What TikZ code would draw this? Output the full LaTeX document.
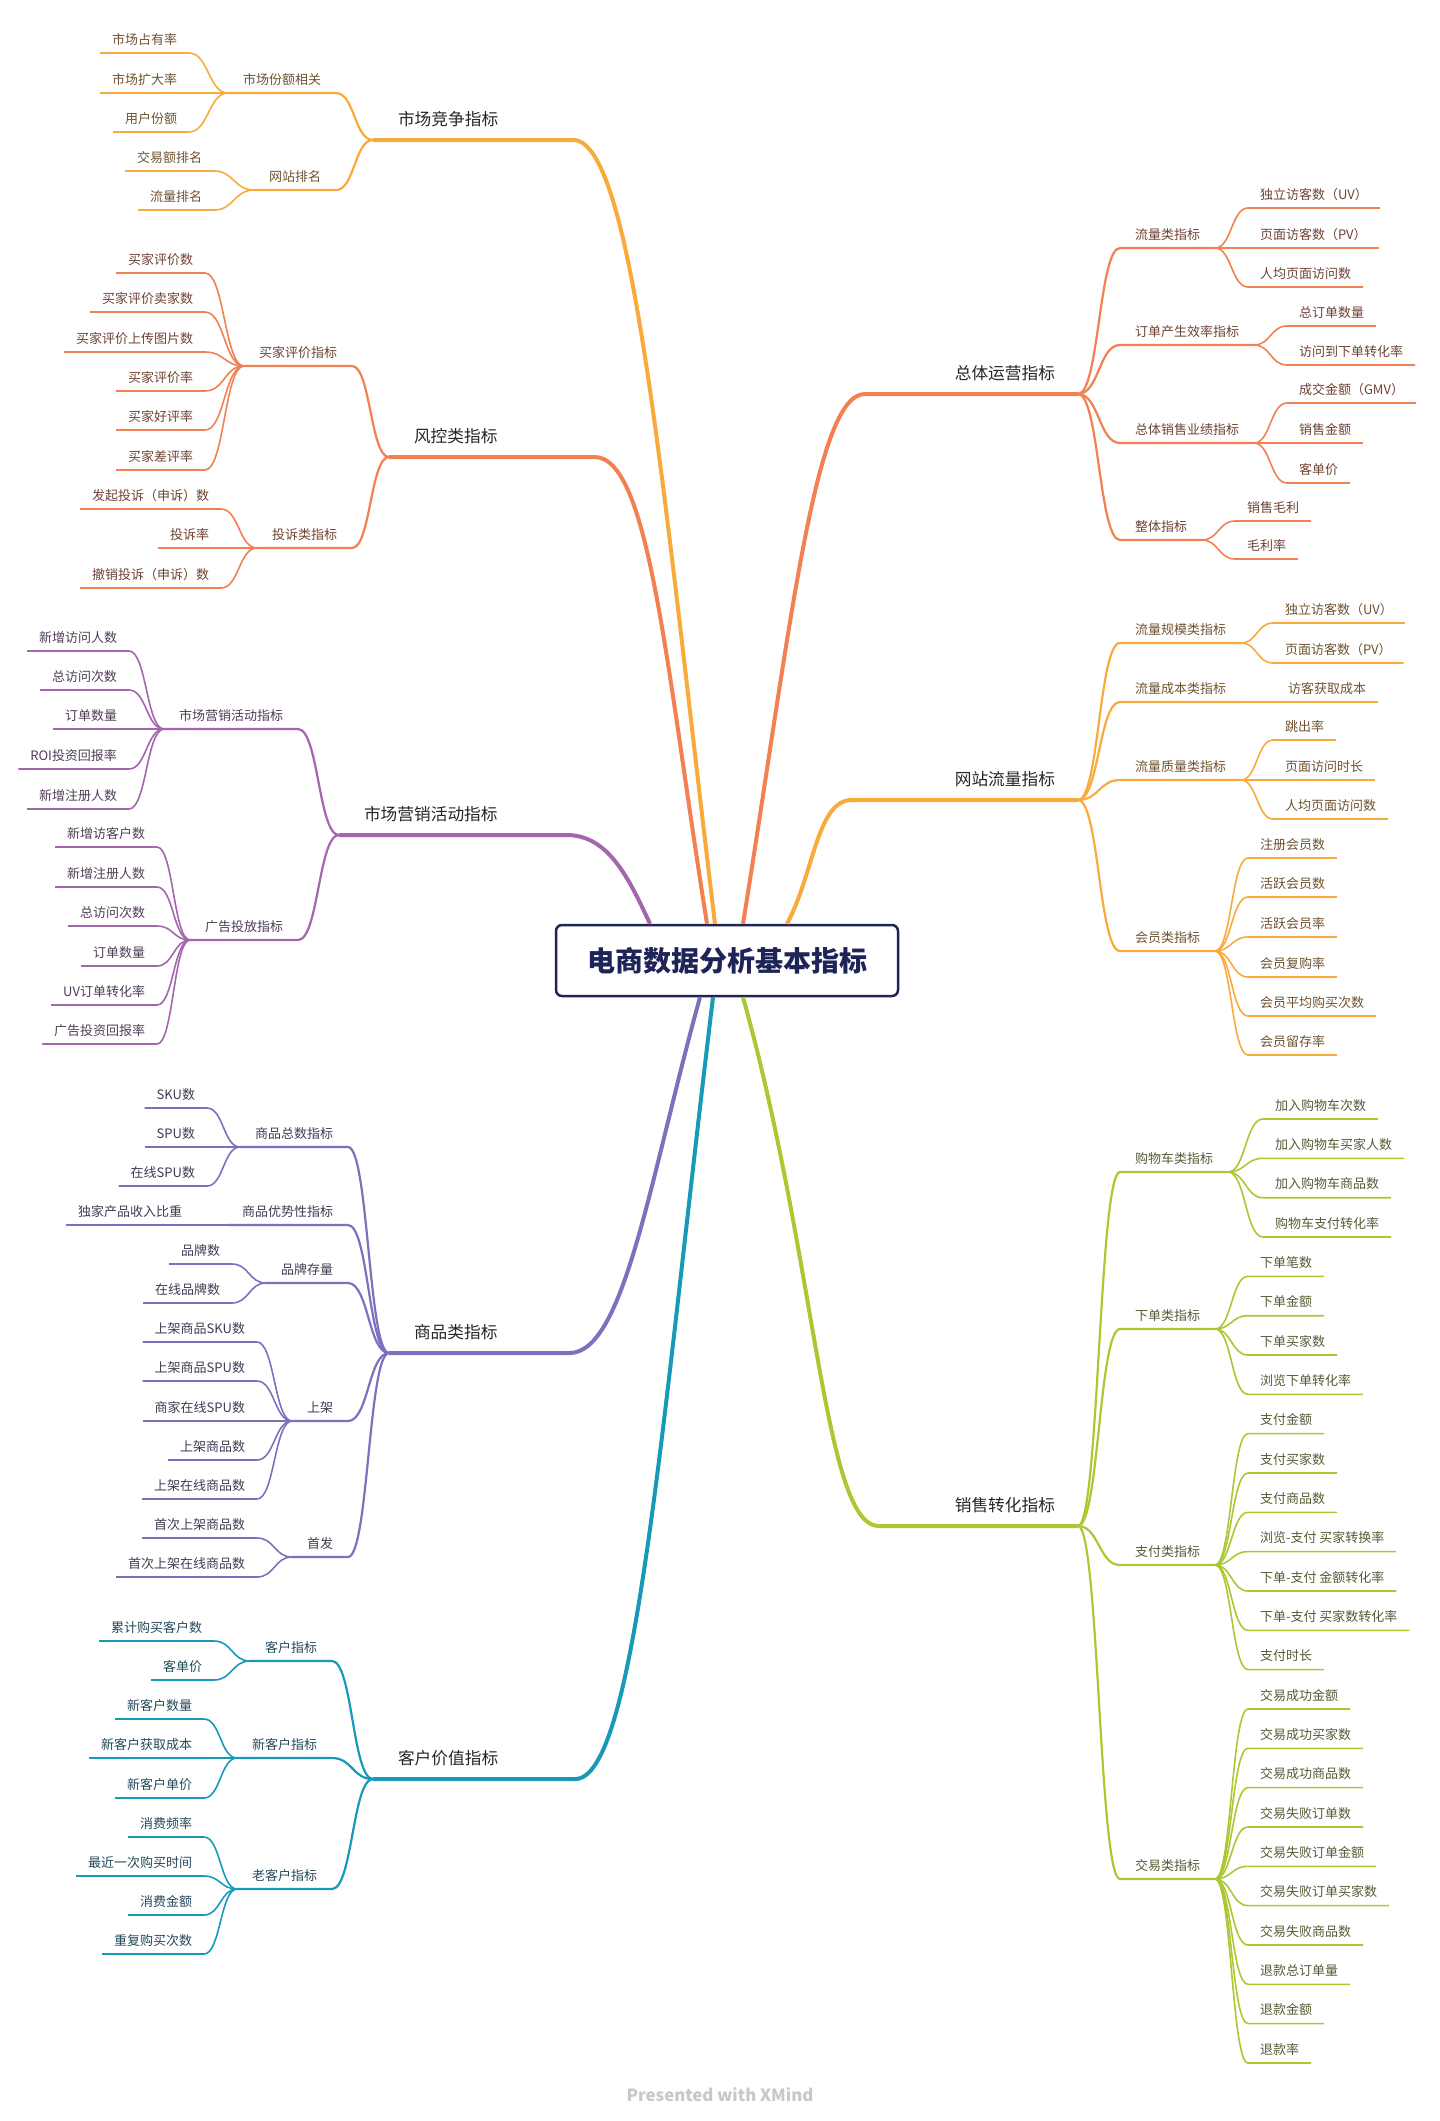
\documentclass[tikz,border=0pt]{standalone}
\usepackage{fontspec}
\setmainfont{Noto Sans CJK SC}
\usepackage{tikz}
\usetikzlibrary{calc}
\definecolor{navy}{HTML}{1F2457}
\definecolor{maintxt}{HTML}{262626}
\definecolor{footgray}{HTML}{C8C8C8}
\definecolor{yel}{HTML}{F8AA3C}
\definecolor{org}{HTML}{F28052}
\definecolor{pur}{HTML}{A466AC}
\definecolor{slt}{HTML}{7A72BE}
\definecolor{tea}{HTML}{1999B9}
\definecolor{grn}{HTML}{AAC832}
\definecolor{yeltxt}{HTML}{6F5230}
\definecolor{orgtxt}{HTML}{6E4234}
\definecolor{purtxt}{HTML}{4F3D55}
\definecolor{slttxt}{HTML}{3E3C52}
\definecolor{teatxt}{HTML}{23495A}
\definecolor{grntxt}{HTML}{555B35}

\begin{document}
\begin{tikzpicture}[x=1pt, y=-1pt]
        \tikzstyle{hubbox} = [rectangle, draw=navy, line width=2.5pt, rounded corners=6pt, fill=white, minimum width=342pt, minimum height=71pt, text=navy, font=\fontsize{28}{32}\selectfont\bfseries]
        \tikzstyle{trunkl} = [anchor=south west, outer sep=0pt, inner xsep=25pt, inner ysep=15pt, text depth=0pt, text=maintxt, font=\fontsize{16.7}{20}\selectfont]
        \tikzstyle{trunkr} = [trunkl, anchor=south east, inner xsep=23pt]
        \tikzstyle{subl} = [anchor=south east, outer sep=0pt, inner xsep=15pt, inner ysep=9pt, text depth=0pt, font=\fontsize{13}{16}\selectfont]
        \tikzstyle{subr} = [subl, anchor=south west]
        \tikzstyle{leafl} = [subl, inner xsep=12pt]
        \tikzstyle{leafr} = [leafl, anchor=south west]
        \tikzstyle{trunk} = [draw, line width=4pt]
        \tikzstyle{twig} = [draw, line width=1.6pt, to path={let \p1=(\tikztostart), \p2=(\tikztotarget) in .. controls ({0.5*\x1+0.5*\x2},\y1) and ({0.5*\x1+0.5*\x2},\y2) .. (\tikztotarget)}]
        \tikzstyle{bough} = [twig, line width=2.2pt]
        \tikzstyle{credit} = [text=footgray, font=\fontsize{16.8}{20}\selectfont\bfseries]

        \useasboundingbox (0,0) rectangle (1440,2121);

        \node [hubbox] (hub) at (727,960.5) {电商数据分析基本指标};

        \node [trunkl] (mkt_comp) at (373,140) {市场竞争指标};
        \node [subl, yeltxt] (mkt_share) at (336,93) {市场份额相关};
        \node [leafl, yeltxt] (share_rate) at (189,53) {市场占有率};
        \node [leafl, yeltxt] (share_grow) at (189,93) {市场扩大率};
        \node [leafl, yeltxt] (user_share) at (189,132) {用户份额};
        \node [subl, yeltxt] (site_rank) at (336,190) {网站排名};
        \node [leafl, yeltxt] (gmv_rank) at (214,171) {交易额排名};
        \node [leafl, yeltxt] (flow_rank) at (214,210) {流量排名};

        \path [trunk, yel] (mkt_comp.south west) -- (mkt_comp.south east) -- ++(50,0) .. controls +(60,0) and +(-52,-430) .. ([xshift=-12pt]hub.north);
        \path [bough, yel] (mkt_share.south west) -- (mkt_share.south east) to (mkt_comp.south west);
        \path [bough, yel] (site_rank.south west) -- (site_rank.south east) to (mkt_comp.south west);
        \path [twig, yel] (share_rate.south west) -- (share_rate.south east) to (mkt_share.south west);
        \path [twig, yel] (share_grow.south west) -- (share_grow.south east) to (mkt_share.south west);
        \path [twig, yel] (user_share.south west) -- (user_share.south east) to (mkt_share.south west);
        \path [twig, yel] (gmv_rank.south west) -- (gmv_rank.south east) to (site_rank.south west);
        \path [twig, yel] (flow_rank.south west) -- (flow_rank.south east) to (site_rank.south west);

        \node [trunkl] (risk_ctrl) at (389,457) {风控类指标};
        \node [subl, orgtxt] (review_kpi) at (352,366) {买家评价指标};
        \node [leafl, orgtxt] (review_cnt) at (205,273) {买家评价数};
        \node [leafl, orgtxt] (review_seller) at (205,312) {买家评价卖家数};
        \node [leafl, orgtxt] (review_pic) at (205,352) {买家评价上传图片数};
        \node [leafl, orgtxt] (review_rate) at (205,391) {买家评价率};
        \node [leafl, orgtxt] (good_rate) at (205,430) {买家好评率};
        \node [leafl, orgtxt] (bad_rate) at (205,470) {买家差评率};
        \node [subl, orgtxt] (complaint_kpi) at (352,548) {投诉类指标};
        \node [leafl, orgtxt] (complaint_open) at (221,509) {发起投诉（申诉）数};
        \node [leafl, orgtxt] (complaint_rate) at (221,548) {投诉率};
        \node [leafl, orgtxt] (complaint_drop) at (221,588) {撤销投诉（申诉）数};

        \path [trunk, org] (risk_ctrl.south west) -- (risk_ctrl.south east) -- ++(72,0) .. controls +(55,0) and +(-41,-257) .. ([xshift=-20pt]hub.north);
        \path [bough, org] (review_kpi.south west) -- (review_kpi.south east) to (risk_ctrl.south west);
        \path [bough, org] (complaint_kpi.south west) -- (complaint_kpi.south east) to (risk_ctrl.south west);
        \path [twig, org] (review_cnt.south west) -- (review_cnt.south east) to (review_kpi.south west);
        \path [twig, org] (review_seller.south west) -- (review_seller.south east) to (review_kpi.south west);
        \path [twig, org] (review_pic.south west) -- (review_pic.south east) to (review_kpi.south west);
        \path [twig, org] (review_rate.south west) -- (review_rate.south east) to (review_kpi.south west);
        \path [twig, org] (good_rate.south west) -- (good_rate.south east) to (review_kpi.south west);
        \path [twig, org] (bad_rate.south west) -- (bad_rate.south east) to (review_kpi.south west);
        \path [twig, org] (complaint_open.south west) -- (complaint_open.south east) to (complaint_kpi.south west);
        \path [twig, org] (complaint_rate.south west) -- (complaint_rate.south east) to (complaint_kpi.south west);
        \path [twig, org] (complaint_drop.south west) -- (complaint_drop.south east) to (complaint_kpi.south west);

        \node [trunkl] (campaign) at (339,835) {市场营销活动指标};
        \node [subl, purtxt] (camp_act) at (298,729) {市场营销活动指标};
        \node [leafl, purtxt] (act_new_visit) at (129,651) {新增访问人数};
        \node [leafl, purtxt] (act_visits) at (129,690) {总访问次数};
        \node [leafl, purtxt] (act_orders) at (129,729) {订单数量};
        \node [leafl, purtxt] (act_roi) at (129,769) {ROI投资回报率};
        \node [leafl, purtxt] (act_new_reg) at (129,809) {新增注册人数};
        \node [subl, purtxt] (ads) at (298,940) {广告投放指标};
        \node [leafl, purtxt] (ads_new_cust) at (157,847) {新增访客户数};
        \node [leafl, purtxt] (ads_new_reg) at (157,887) {新增注册人数};
        \node [leafl, purtxt] (ads_visits) at (157,926) {总访问次数};
        \node [leafl, purtxt] (ads_orders) at (157,966) {订单数量};
        \node [leafl, purtxt] (ads_uv_conv) at (157,1005) {UV订单转化率};
        \node [leafl, purtxt] (ads_roi) at (157,1044) {广告投资回报率};

        \path [trunk, pur] (campaign.south west) -- (campaign.south east) -- ++(44,0) .. controls +(42,0) and +(-21,-45) .. ([xshift=-77pt]hub.north);
        \path [bough, pur] (camp_act.south west) -- (camp_act.south east) to (campaign.south west);
        \path [bough, pur] (ads.south west) -- (ads.south east) to (campaign.south west);
        \path [twig, pur] (act_new_visit.south west) -- (act_new_visit.south east) to (camp_act.south west);
        \path [twig, pur] (act_visits.south west) -- (act_visits.south east) to (camp_act.south west);
        \path [twig, pur] (act_orders.south west) -- (act_orders.south east) to (camp_act.south west);
        \path [twig, pur] (act_roi.south west) -- (act_roi.south east) to (camp_act.south west);
        \path [twig, pur] (act_new_reg.south west) -- (act_new_reg.south east) to (camp_act.south west);
        \path [twig, pur] (ads_new_cust.south west) -- (ads_new_cust.south east) to (ads.south west);
        \path [twig, pur] (ads_new_reg.south west) -- (ads_new_reg.south east) to (ads.south west);
        \path [twig, pur] (ads_visits.south west) -- (ads_visits.south east) to (ads.south west);
        \path [twig, pur] (ads_orders.south west) -- (ads_orders.south east) to (ads.south west);
        \path [twig, pur] (ads_uv_conv.south west) -- (ads_uv_conv.south east) to (ads.south west);
        \path [twig, pur] (ads_roi.south west) -- (ads_roi.south east) to (ads.south west);

        \node [trunkl] (goods) at (389,1353) {商品类指标};
        \node [subl, slttxt] (goods_total) at (348,1147) {商品总数指标};
        \node [leafl, slttxt] (sku_cnt) at (207,1108) {SKU数};
        \node [leafl, slttxt] (spu_cnt) at (207,1147) {SPU数};
        \node [leafl, slttxt] (spu_online) at (207,1186) {在线SPU数};
        \node [subl, slttxt] (goods_adv) at (348,1225) {商品优势性指标};
        \node [leafl, slttxt] (excl_share) at (194,1225) {独家产品收入比重};
        \node [subl, slttxt] (brand) at (348,1283) {品牌存量};
        \node [leafl, slttxt] (brand_cnt) at (232,1264) {品牌数};
        \node [leafl, slttxt] (brand_online) at (232,1303) {在线品牌数};
        \node [subl, slttxt] (listing) at (348,1421) {上架};
        \node [leafl, slttxt] (list_sku) at (257,1342) {上架商品SKU数};
        \node [leafl, slttxt] (list_spu) at (257,1381) {上架商品SPU数};
        \node [leafl, slttxt] (list_spu_online) at (257,1421) {商家在线SPU数};
        \node [leafl, slttxt] (list_goods) at (257,1460) {上架商品数};
        \node [leafl, slttxt] (list_goods_online) at (257,1499) {上架在线商品数};
        \node [subl, slttxt] (debut) at (348,1557) {首发};
        \node [leafl, slttxt] (debut_goods) at (257,1538) {首次上架商品数};
        \node [leafl, slttxt] (debut_online) at (257,1577) {首次上架在线商品数};

        \path [trunk, slt] (goods.south west) -- (goods.south east) -- ++(47,0) .. controls +(55,0) and +(-50,180) .. ([xshift=-27pt]hub.south);
        \path [bough, slt] (goods_total.south west) -- (goods_total.south east) to (goods.south west);
        \path [bough, slt] (goods_adv.south west) -- (goods_adv.south east) to (goods.south west);
        \path [bough, slt] (brand.south west) -- (brand.south east) to (goods.south west);
        \path [bough, slt] (listing.south west) -- (listing.south east) to (goods.south west);
        \path [bough, slt] (debut.south west) -- (debut.south east) to (goods.south west);
        \path [twig, slt] (sku_cnt.south west) -- (sku_cnt.south east) to (goods_total.south west);
        \path [twig, slt] (spu_cnt.south west) -- (spu_cnt.south east) to (goods_total.south west);
        \path [twig, slt] (spu_online.south west) -- (spu_online.south east) to (goods_total.south west);
        \path [twig, slt] (excl_share.south west) -- (excl_share.south east) to (goods_adv.south west);
        \path [twig, slt] (brand_cnt.south west) -- (brand_cnt.south east) to (brand.south west);
        \path [twig, slt] (brand_online.south west) -- (brand_online.south east) to (brand.south west);
        \path [twig, slt] (list_sku.south west) -- (list_sku.south east) to (listing.south west);
        \path [twig, slt] (list_spu.south west) -- (list_spu.south east) to (listing.south west);
        \path [twig, slt] (list_spu_online.south west) -- (list_spu_online.south east) to (listing.south west);
        \path [twig, slt] (list_goods.south west) -- (list_goods.south east) to (listing.south west);
        \path [twig, slt] (list_goods_online.south west) -- (list_goods_online.south east) to (listing.south west);
        \path [twig, slt] (debut_goods.south west) -- (debut_goods.south east) to (debut.south west);
        \path [twig, slt] (debut_online.south west) -- (debut_online.south east) to (debut.south west);

        \node [trunkl] (cust_value) at (373,1779) {客户价值指标};
        \node [subl, teatxt] (cust_kpi) at (332,1661) {客户指标};
        \node [leafl, teatxt] (cust_buyers) at (214,1641) {累计购买客户数};
        \node [leafl, teatxt] (cust_price) at (214,1680) {客单价};
        \node [subl, teatxt] (new_cust) at (332,1758) {新客户指标};
        \node [leafl, teatxt] (new_cnt) at (204,1719) {新客户数量};
        \node [leafl, teatxt] (new_cost) at (204,1758) {新客户获取成本};
        \node [leafl, teatxt] (new_price) at (204,1798) {新客户单价};
        \node [subl, teatxt] (old_cust) at (332,1889) {老客户指标};
        \node [leafl, teatxt] (old_freq) at (204,1837) {消费频率};
        \node [leafl, teatxt] (old_recent) at (204,1876) {最近一次购买时间};
        \node [leafl, teatxt] (old_amount) at (204,1915) {消费金额};
        \node [leafl, teatxt] (old_repeat) at (204,1954) {重复购买次数};

        \path [trunk, tea] (cust_value.south west) -- (cust_value.south east) -- ++(52,0) .. controls +(60,0) and +(-52,430) .. ([xshift=-14pt]hub.south);
        \path [bough, tea] (cust_kpi.south west) -- (cust_kpi.south east) to (cust_value.south west);
        \path [bough, tea] (new_cust.south west) -- (new_cust.south east) to (cust_value.south west);
        \path [bough, tea] (old_cust.south west) -- (old_cust.south east) to (cust_value.south west);
        \path [twig, tea] (cust_buyers.south west) -- (cust_buyers.south east) to (cust_kpi.south west);
        \path [twig, tea] (cust_price.south west) -- (cust_price.south east) to (cust_kpi.south west);
        \path [twig, tea] (new_cnt.south west) -- (new_cnt.south east) to (new_cust.south west);
        \path [twig, tea] (new_cost.south west) -- (new_cost.south east) to (new_cust.south west);
        \path [twig, tea] (new_price.south west) -- (new_price.south east) to (new_cust.south west);
        \path [twig, tea] (old_freq.south west) -- (old_freq.south east) to (old_cust.south west);
        \path [twig, tea] (old_recent.south west) -- (old_recent.south east) to (old_cust.south west);
        \path [twig, tea] (old_amount.south west) -- (old_amount.south east) to (old_cust.south west);
        \path [twig, tea] (old_repeat.south west) -- (old_repeat.south east) to (old_cust.south west);

        \node [trunkr] (ops) at (1078,394) {总体运营指标};
        \node [subr, orgtxt] (flow_kpi) at (1120,248) {流量类指标};
        \node [leafr, orgtxt] (ops_uv) at (1248,208) {独立访客数（UV）};
        \node [leafr, orgtxt] (ops_pv) at (1248,248) {页面访客数（PV）};
        \node [leafr, orgtxt] (ops_ppv) at (1248,287) {人均页面访问数};
        \node [subr, orgtxt] (order_eff) at (1120,345) {订单产生效率指标};
        \node [leafr, orgtxt] (order_cnt) at (1287,326) {总订单数量};
        \node [leafr, orgtxt] (order_conv) at (1287,365) {访问到下单转化率};
        \node [subr, orgtxt] (sales_perf) at (1120,443) {总体销售业绩指标};
        \node [leafr, orgtxt] (perf_gmv) at (1287,403) {成交金额（GMV）};
        \node [leafr, orgtxt] (perf_amount) at (1287,443) {销售金额};
        \node [leafr, orgtxt] (perf_price) at (1287,483) {客单价};
        \node [subr, orgtxt] (overall) at (1120,540) {整体指标};
        \node [leafr, orgtxt] (gross_profit) at (1235,521) {销售毛利};
        \node [leafr, orgtxt] (gross_margin) at (1235,559) {毛利率};

        \path [trunk, org] (ops.south east) -- (ops.south west) -- ++(-67,0) .. controls +(-50,0) and +(47,-292) .. ([xshift=16pt]hub.north);
        \path [bough, org] (ops.south east) to (flow_kpi.south west) -- (flow_kpi.south east);
        \path [bough, org] (ops.south east) to (order_eff.south west) -- (order_eff.south east);
        \path [bough, org] (ops.south east) to (sales_perf.south west) -- (sales_perf.south east);
        \path [bough, org] (ops.south east) to (overall.south west) -- (overall.south east);
        \path [twig, org] (flow_kpi.south east) to (ops_uv.south west) -- (ops_uv.south east);
        \path [twig, org] (flow_kpi.south east) to (ops_pv.south west) -- (ops_pv.south east);
        \path [twig, org] (flow_kpi.south east) to (ops_ppv.south west) -- (ops_ppv.south east);
        \path [twig, org] (order_eff.south east) to (order_cnt.south west) -- (order_cnt.south east);
        \path [twig, org] (order_eff.south east) to (order_conv.south west) -- (order_conv.south east);
        \path [twig, org] (sales_perf.south east) to (perf_gmv.south west) -- (perf_gmv.south east);
        \path [twig, org] (sales_perf.south east) to (perf_amount.south west) -- (perf_amount.south east);
        \path [twig, org] (sales_perf.south east) to (perf_price.south west) -- (perf_price.south east);
        \path [twig, org] (overall.south east) to (gross_profit.south west) -- (gross_profit.south east);
        \path [twig, org] (overall.south east) to (gross_margin.south west) -- (gross_margin.south east);

        \node [trunkr] (traffic) at (1078,800) {网站流量指标};
        \node [subr, yeltxt] (flow_scale) at (1120,643) {流量规模类指标};
        \node [leafr, yeltxt] (scale_uv) at (1273,623) {独立访客数（UV）};
        \node [leafr, yeltxt] (scale_pv) at (1273,663) {页面访客数（PV）};
        \node [subr, yeltxt] (flow_cost) at (1120,702) {流量成本类指标};
        \node [leafr, yeltxt] (visitor_cost) at (1276,702) {访客获取成本};
        \node [subr, yeltxt] (flow_quality) at (1120,780) {流量质量类指标};
        \node [leafr, yeltxt] (bounce) at (1273,740) {跳出率};
        \node [leafr, yeltxt] (stay_time) at (1273,780) {页面访问时长};
        \node [leafr, yeltxt] (qual_ppv) at (1273,819) {人均页面访问数};
        \node [subr, yeltxt] (member) at (1120,951) {会员类指标};
        \node [leafr, yeltxt] (mem_reg) at (1248,858) {注册会员数};
        \node [leafr, yeltxt] (mem_active) at (1248,897) {活跃会员数};
        \node [leafr, yeltxt] (mem_active_rate) at (1248,937) {活跃会员率};
        \node [leafr, yeltxt] (mem_rebuy) at (1248,977) {会员复购率};
        \node [leafr, yeltxt] (mem_avg_buy) at (1248,1016) {会员平均购买次数};
        \node [leafr, yeltxt] (mem_retain) at (1248,1055) {会员留存率};

        \path [trunk, yel] (traffic.south east) -- (traffic.south west) -- ++(-80,0) .. controls +(-35,0) and +(27,-50) .. ([xshift=60pt]hub.north);
        \path [bough, yel] (traffic.south east) to (flow_scale.south west) -- (flow_scale.south east);
        \path [bough, yel] (traffic.south east) to (flow_cost.south west) -- (flow_cost.south east);
        \path [bough, yel] (traffic.south east) to (flow_quality.south west) -- (flow_quality.south east);
        \path [bough, yel] (traffic.south east) to (member.south west) -- (member.south east);
        \path [twig, yel] (flow_scale.south east) to (scale_uv.south west) -- (scale_uv.south east);
        \path [twig, yel] (flow_scale.south east) to (scale_pv.south west) -- (scale_pv.south east);
        \path [twig, yel] (flow_cost.south east) to (visitor_cost.south west) -- (visitor_cost.south east);
        \path [twig, yel] (flow_quality.south east) to (bounce.south west) -- (bounce.south east);
        \path [twig, yel] (flow_quality.south east) to (stay_time.south west) -- (stay_time.south east);
        \path [twig, yel] (flow_quality.south east) to (qual_ppv.south west) -- (qual_ppv.south east);
        \path [twig, yel] (member.south east) to (mem_reg.south west) -- (mem_reg.south east);
        \path [twig, yel] (member.south east) to (mem_active.south west) -- (mem_active.south east);
        \path [twig, yel] (member.south east) to (mem_active_rate.south west) -- (mem_active_rate.south east);
        \path [twig, yel] (member.south east) to (mem_rebuy.south west) -- (mem_rebuy.south east);
        \path [twig, yel] (member.south east) to (mem_avg_buy.south west) -- (mem_avg_buy.south east);
        \path [twig, yel] (member.south east) to (mem_retain.south west) -- (mem_retain.south east);

        \node [trunkr] (sales) at (1078,1526) {销售转化指标};
        \node [subr, grntxt] (cart) at (1120,1172) {购物车类指标};
        \node [leafr, grntxt] (cart_times) at (1263,1119) {加入购物车次数};
        \node [leafr, grntxt] (cart_buyers) at (1263,1158.3) {加入购物车买家人数};
        \node [leafr, grntxt] (cart_goods) at (1263,1197.7) {加入购物车商品数};
        \node [leafr, grntxt] (cart_conv) at (1263,1237) {购物车支付转化率};
        \node [subr, grntxt] (place_order) at (1120,1329) {下单类指标};
        \node [leafr, grntxt] (ord_cnt) at (1248,1276.3) {下单笔数};
        \node [leafr, grntxt] (ord_amount) at (1248,1315.7) {下单金额};
        \node [leafr, grntxt] (ord_buyers) at (1248,1355) {下单买家数};
        \node [leafr, grntxt] (ord_conv) at (1248,1394.3) {浏览下单转化率};
        \node [subr, grntxt] (pay) at (1120,1565) {支付类指标};
        \node [leafr, grntxt] (pay_amount) at (1248,1433.6) {支付金额};
        \node [leafr, grntxt] (pay_buyers) at (1248,1473) {支付买家数};
        \node [leafr, grntxt] (pay_goods) at (1248,1512.3) {支付商品数};
        \node [leafr, grntxt] (pay_view_conv) at (1248,1551.6) {浏览-支付 买家转换率};
        \node [leafr, grntxt] (pay_amount_conv) at (1248,1591) {下单-支付 金额转化率};
        \node [leafr, grntxt] (pay_buyer_conv) at (1248,1630.3) {下单-支付 买家数转化率};
        \node [leafr, grntxt] (pay_time) at (1248,1669.6) {支付时长};
        \node [subr, grntxt] (trade) at (1120,1879) {交易类指标};
        \node [leafr, grntxt] (deal_amount) at (1248,1709) {交易成功金额};
        \node [leafr, grntxt] (deal_buyers) at (1248,1748.3) {交易成功买家数};
        \node [leafr, grntxt] (deal_goods) at (1248,1787.6) {交易成功商品数};
        \node [leafr, grntxt] (fail_orders) at (1248,1827) {交易失败订单数};
        \node [leafr, grntxt] (fail_amount) at (1248,1866.3) {交易失败订单金额};
        \node [leafr, grntxt] (fail_buyers) at (1248,1905.6) {交易失败订单买家数};
        \node [leafr, grntxt] (fail_goods) at (1248,1945) {交易失败商品数};
        \node [leafr, grntxt] (refund_orders) at (1248,1984.3) {退款总订单量};
        \node [leafr, grntxt] (refund_amount) at (1248,2023.6) {退款金额};
        \node [leafr, grntxt] (refund_rate) at (1248,2063) {退款率};

        \path [trunk, grn] (sales.south east) -- (sales.south west) -- ++(-53,0) .. controls +(-55,0) and +(74,265) .. ([xshift=16pt]hub.south);
        \path [bough, grn] (sales.south east) to (cart.south west) -- (cart.south east);
        \path [bough, grn] (sales.south east) to (place_order.south west) -- (place_order.south east);
        \path [bough, grn] (sales.south east) to (pay.south west) -- (pay.south east);
        \path [bough, grn] (sales.south east) to (trade.south west) -- (trade.south east);
        \path [twig, grn] (cart.south east) to (cart_times.south west) -- (cart_times.south east);
        \path [twig, grn] (cart.south east) to (cart_buyers.south west) -- (cart_buyers.south east);
        \path [twig, grn] (cart.south east) to (cart_goods.south west) -- (cart_goods.south east);
        \path [twig, grn] (cart.south east) to (cart_conv.south west) -- (cart_conv.south east);
        \path [twig, grn] (place_order.south east) to (ord_cnt.south west) -- (ord_cnt.south east);
        \path [twig, grn] (place_order.south east) to (ord_amount.south west) -- (ord_amount.south east);
        \path [twig, grn] (place_order.south east) to (ord_buyers.south west) -- (ord_buyers.south east);
        \path [twig, grn] (place_order.south east) to (ord_conv.south west) -- (ord_conv.south east);
        \path [twig, grn] (pay.south east) to (pay_amount.south west) -- (pay_amount.south east);
        \path [twig, grn] (pay.south east) to (pay_buyers.south west) -- (pay_buyers.south east);
        \path [twig, grn] (pay.south east) to (pay_goods.south west) -- (pay_goods.south east);
        \path [twig, grn] (pay.south east) to (pay_view_conv.south west) -- (pay_view_conv.south east);
        \path [twig, grn] (pay.south east) to (pay_amount_conv.south west) -- (pay_amount_conv.south east);
        \path [twig, grn] (pay.south east) to (pay_buyer_conv.south west) -- (pay_buyer_conv.south east);
        \path [twig, grn] (pay.south east) to (pay_time.south west) -- (pay_time.south east);
        \path [twig, grn] (trade.south east) to (deal_amount.south west) -- (deal_amount.south east);
        \path [twig, grn] (trade.south east) to (deal_buyers.south west) -- (deal_buyers.south east);
        \path [twig, grn] (trade.south east) to (deal_goods.south west) -- (deal_goods.south east);
        \path [twig, grn] (trade.south east) to (fail_orders.south west) -- (fail_orders.south east);
        \path [twig, grn] (trade.south east) to (fail_amount.south west) -- (fail_amount.south east);
        \path [twig, grn] (trade.south east) to (fail_buyers.south west) -- (fail_buyers.south east);
        \path [twig, grn] (trade.south east) to (fail_goods.south west) -- (fail_goods.south east);
        \path [twig, grn] (trade.south east) to (refund_orders.south west) -- (refund_orders.south east);
        \path [twig, grn] (trade.south east) to (refund_amount.south west) -- (refund_amount.south east);
        \path [twig, grn] (trade.south east) to (refund_rate.south west) -- (refund_rate.south east);

        \node [credit] (footer) at (720,2095) {Presented with XMind};
\end{tikzpicture}
\end{document}
